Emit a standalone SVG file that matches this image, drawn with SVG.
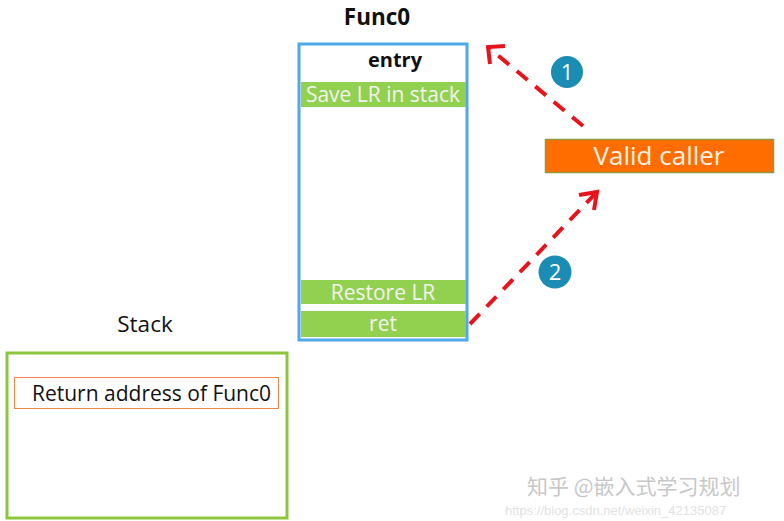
<svg xmlns="http://www.w3.org/2000/svg" width="784" height="521" viewBox="0 0 784 521">
<defs>
<style>
.t{font-family:"Open Sans","Noto Sans","Liberation Sans",sans-serif}
.bar{fill:#92D050}
.bt{fill:#F2F2F2;font-size:21px;text-anchor:middle}
.con{stroke:#E8141B;stroke-width:4;stroke-dasharray:14,10;fill:none}
.head{fill:none;stroke:#E8141B;stroke-width:4}
.num{fill:#1B8DB5}
.nt{fill:#FFFFFF;font-size:22px;text-anchor:middle}
</style>
</defs>
<rect width="784" height="521" fill="#FFFFFF"/>
<g id="func0">
<text class="t" x="377" y="25" font-size="22.5" font-weight="bold" text-anchor="middle" fill="#111">Func0</text>
<rect x="299" y="44" width="168" height="296" fill="none" stroke="#4FA8E8" stroke-width="3"/>
<text class="t" x="395" y="67" font-size="20" font-weight="bold" text-anchor="middle" fill="#111">entry</text>
<rect class="bar" x="301" y="82" width="165" height="25"/>
<text class="t bt" x="383" y="102">Save LR in stack</text>
<rect class="bar" x="301" y="280" width="165" height="24"/>
<text class="t bt" x="383" y="300">Restore LR</text>
<rect class="bar" x="301" y="311" width="165" height="26"/>
<text class="t bt" x="383" y="331">ret</text>
</g>
<g id="valid-caller">
<rect x="545.5" y="139.5" width="228" height="33" fill="#FF6D00" stroke="#8C9A3C" stroke-width="1.5"/>
<text class="t" x="659" y="165" font-size="26" text-anchor="middle" fill="#FDF2E6">Valid caller</text>
</g>
<g id="stack">
<text class="t" x="145" y="332" font-size="22.5" text-anchor="middle" fill="#111">Stack</text>
<rect x="7" y="353" width="280" height="165" fill="none" stroke="#8CC63F" stroke-width="3"/>
<rect x="14.5" y="377.5" width="264" height="31" fill="none" stroke="#E8884A" stroke-width="1"/>
<text class="t" x="32" y="401" font-size="21" fill="#111">Return address of Func0</text>
</g>
<g id="connectors">
<line class="con" x1="583" y1="126" x2="489" y2="48"/>
<polyline class="head" points="490,64 488,47 505,46"/>
<line class="con" x1="470" y1="324" x2="596" y2="193"/>
<polyline class="head" points="579,195 597,192 594,210"/>
</g>
<g id="badge-1">
<circle class="num" cx="567" cy="72" r="16"/>
<text class="t nt" x="567" y="80">1</text>
</g>
<g id="badge-2">
<circle class="num" cx="555" cy="272" r="16.5"/>
<text class="t nt" x="555" y="280">2</text>
</g>
<g id="watermark">
<text x="527" y="494" font-size="21" font-family="'Noto Sans CJK SC',sans-serif" fill="#C8C8C8">知乎 @嵌入式学习规划</text>
<text x="505" y="515" font-size="13" font-family="'Liberation Sans',sans-serif" fill="#E2E2E2">https://blog.csdn.net/weixin_42135087</text>
</g>
</svg>
